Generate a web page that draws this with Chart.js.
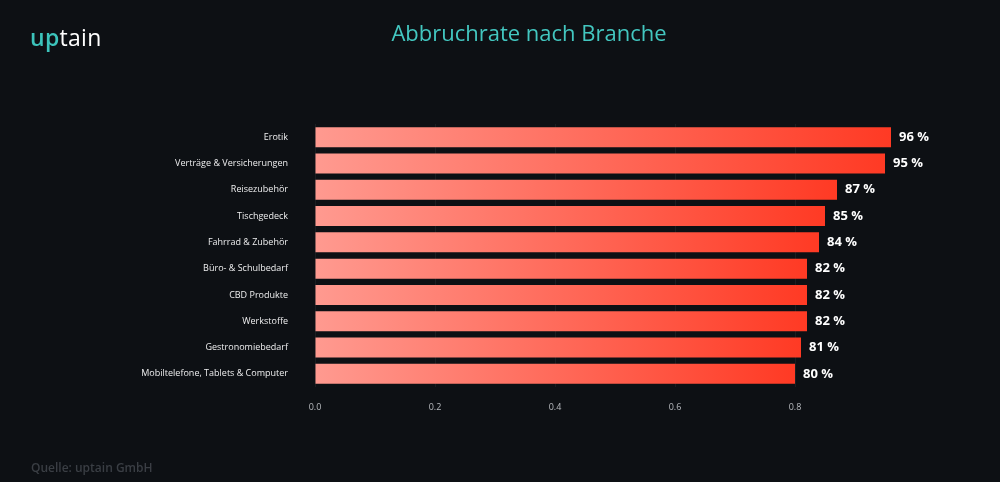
<!DOCTYPE html>
<html>
<head>
<meta charset="utf-8">
<script src="https://cdn.jsdelivr.net/npm/chart.js@4"></script>
<style>
  html, body { margin: 0; padding: 0; background: #0d1014; }
  #wrap { position: relative; width: 1000px; height: 482px; overflow: hidden; background: #0d1014; }
  #myChart { position: absolute; left: 0; top: 0; }
  .logo { position: absolute; left: 30px; top: 21px; font-family: "Open Sans", sans-serif; font-size: 23px; color: #fff; letter-spacing: 0.3px; }
  .logo span { color: #3cc3bb; font-weight: 600; }
  .title { position: absolute; left: 0; width: 1058px; top: 17px; text-align: center; font-family: "Open Sans", sans-serif; font-size: 22px; color: #43c7c0; }
  .source { position: absolute; left: 31px; top: 459px; font-family: "Open Sans", sans-serif; font-size: 12px; font-weight: 600; color: #3a3e44; }
</style>
</head>
<body>
<div id="wrap">
  <canvas id="myChart" width="1000" height="482"></canvas>
  <div class="logo"><span>up</span>tain</div>
  <div class="title">Abbruchrate nach Branche</div>
  <div class="source">Quelle: uptain GmbH</div>
</div>
<script>
// Daten
const categories = [
  'Erotik',
  'Verträge & Versicherungen',
  'Reisezubehör',
  'Tischgedeck',
  'Fahrrad & Zubehör',
  'Büro- & Schulbedarf',
  'CBD Produkte',
  'Werkstoffe',
  'Gestronomiebedarf',
  'Mobiltelefone, Tablets & Computer'
];
const values = [0.96, 0.95, 0.87, 0.85, 0.84, 0.82, 0.82, 0.82, 0.81, 0.80];
const tickValues = [0.0, 0.2, 0.4, 0.6, 0.8];

// gradient per bar, from the bar base to its end
function barGradient(context) {
  const chart = context.chart;
  const xScale = chart.scales.x;
  if (!xScale || context.parsed == null) return '#ff5a45';
  const x0 = xScale.getPixelForValue(0);
  const x1 = xScale.getPixelForValue(context.parsed.x);
  if (!isFinite(x0) || !isFinite(x1) || x1 <= x0) return '#ff5a45';
  const g = chart.ctx.createLinearGradient(x0, 0, x1, 0);
  g.addColorStop(0, '#ff9a90');
  g.addColorStop(1, '#ff3a24');
  return g;
}

// percent labels at the end of bars
const valueLabels = {
  id: 'valueLabels',
  afterDatasetsDraw(chart) {
    const ctx = chart.ctx;
    const meta = chart.getDatasetMeta(0);
    ctx.save();
    ctx.font = 'bold 13px "Open Sans", sans-serif';
    ctx.fillStyle = '#ffffff';
    ctx.textBaseline = 'middle';
    ctx.textAlign = 'left';
    meta.data.forEach((bar, i) => {
      ctx.fillText(Math.round(values[i] * 100) + ' %', bar.x + 8, bar.y);
    });
    ctx.restore();
  }
};

let ctx = document.getElementById('myChart').getContext('2d');
let myChart = new Chart(ctx, {
  type: 'bar',
  data: {
    labels: categories,
    datasets: [{
      data: values,
      backgroundColor: barGradient,
      borderWidth: 0,
      barPercentage: 0.76,
      categoryPercentage: 1.0
    }]
  },
  options: {
    indexAxis: 'y',
    responsive: false,
    animation: false,
    layout: { padding: { top: 124, right: 109, bottom: 65, left: 0 } },
    plugins: {
      legend: { display: false },
      title: { display: false },
      tooltip: { enabled: false }
    },
    scales: {
      x: {
        min: 0,
        max: Math.max(...values),
        afterFit: (s) => { s.height = 30; },
        afterBuildTicks: (s) => { s.ticks = tickValues.map(v => ({ value: v })); },
        grid: { color: 'rgba(255,255,255,0.06)', drawTicks: false },
        border: { display: false },
        ticks: {
          padding: 15,
          color: '#b9bcc0',
          font: { family: 'Open Sans', size: 9 },
          callback: (v) => v.toFixed(1)
        }
      },
      y: {
        afterFit: (s) => { s.width = 315; },
        grid: { display: false },
        border: { display: false },
        ticks: {
          padding: 19,
          color: '#eeeeef',
          font: { family: 'Open Sans', size: 9 }
        }
      }
    }
  },
  plugins: [valueLabels]
});
</script>
</body>
</html>
